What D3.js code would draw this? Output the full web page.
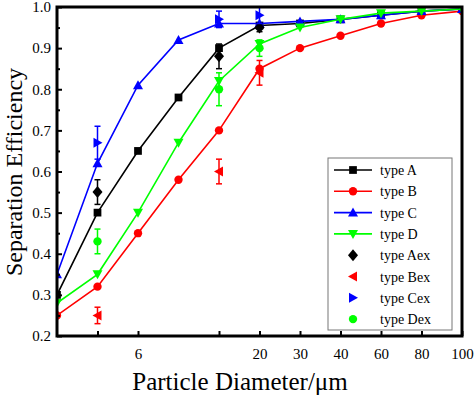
<!DOCTYPE html>
<html><head><meta charset="utf-8">
<script src="https://cdn.jsdelivr.net/npm/d3@7"></script>
<style>body{margin:0;background:#fff}text{font-family:"Liberation Serif","Times New Roman",serif}</style>
</head><body><svg id="c" width="474" height="402"></svg>
<script>
var cats = ["2","4","6","8","10","20","30","40","60","80","100"]
var labeled = ["6","20","30","40","60","80","100"]
var ticked = ["4","6","10","20","30","40","60","80","100"]
var typeA = [0.30,0.50,0.65,0.78,0.90,0.955,0.96,0.97,0.98,0.99,0.995]
var typeB = [0.25,0.32,0.45,0.58,0.70,0.85,0.90,0.93,0.96,0.98,0.99]
var typeC = [0.35,0.62,0.81,0.92,0.96,0.96,0.965,0.97,0.98,0.99,0.995]
var typeD = [0.28,0.35,0.50,0.67,0.82,0.91,0.95,0.97,0.985,0.99,0.995]
var exCats = ["4","10","20"]
var aex = [0.55,0.88,0.95], aexErr = [0.03,0.03,0.01]
var bex = [0.25,0.60,0.84], bexErr = [0.02,0.03,0.03]
var cex = [0.67,0.97,0.98], cexErr = [0.04,0.02,0.02]
var dex = [0.43,0.80,0.90], dexErr = [0.03,0.04,0.02]

var svg = d3.select("#c")
var x = d3.scalePoint().domain(cats).range([57,462])
var y = d3.scaleLinear().domain([0.2,1]).range([336,7])

var g = svg.append("g")
// clip
svg.append("clipPath").attr("id","cl").append("rect").attr("x",57).attr("y",7).attr("width",405).attr("height",329)
var plot = svg.append("g").attr("clip-path","url(#cl)")

var series = [
  {n:"type A", v:typeA, c:"#000", s:d3.symbolSquare},
  {n:"type B", v:typeB, c:"#f00", s:d3.symbolCircle},
  {n:"type C", v:typeC, c:"#00f", s:"up"},
  {n:"type D", v:typeD, c:"#0f0", s:"down"}
]
var exs = [
  {n:"type Aex", v:aex, e:aexErr, c:"#000", s:"diamond"},
  {n:"type Bex", v:bex, e:bexErr, c:"#f00", s:"left"},
  {n:"type Cex", v:cex, e:cexErr, c:"#00f", s:"right"},
  {n:"type Dex", v:dex, e:dexErr, c:"#0f0", s:d3.symbolCircle}
]
function shape(s){
  var p = {up:"M0,-5L5,4L-5,4Z", down:"M0,5L5,-4L-5,-4Z", left:"M-5,0L4,-5L4,5Z", right:"M5,0L-4,-5L-4,5Z", diamond:"M0,-6L5,0L0,6L-5,0Z"}
  if (p[s]) return p[s]
  return d3.symbol().type(s).size(s==d3.symbolSquare?60:55)()
}
var line = d3.line().x(function(d,i){return x(cats[i])}).y(function(d){return y(d)})
series.forEach(function(s){
  plot.append("path").attr("d",line(s.v)).attr("fill","none").attr("stroke",s.c).attr("stroke-width",1.6)
  plot.selectAll(null).data(s.v).enter().append("path").attr("d",shape(s.s)).attr("fill",s.c)
    .attr("transform",function(d,i){return "translate("+x(cats[i])+","+y(d)+")"})
})
exs.forEach(function(s){
  s.v.forEach(function(v,i){
    var cx = x(exCats[i]), e = s.e[i]
    var eg = plot.append("g").attr("stroke",s.c).attr("stroke-width",1.5)
    eg.append("line").attr("x1",cx).attr("x2",cx).attr("y1",y(v-e)).attr("y2",y(v+e))
    eg.append("line").attr("x1",cx-3).attr("x2",cx+3).attr("y1",y(v-e)).attr("y2",y(v-e))
    eg.append("line").attr("x1",cx-3).attr("x2",cx+3).attr("y1",y(v+e)).attr("y2",y(v+e))
    plot.append("path").attr("d",shape(s.s)).attr("fill",s.c).attr("transform","translate("+cx+","+y(v)+")")
  })
})

// axes
var yAx = d3.axisLeft(y).tickValues(d3.range(0.2,1.001,0.1)).tickFormat(d3.format(".1f")).tickSize(-5)
var ya = svg.append("g").attr("transform","translate(57,0)").call(yAx)
ya.selectAll("text").attr("x",-6).style("font-size","15px")
svg.append("g").attr("transform","translate(57,0)").call(d3.axisLeft(y).tickValues(d3.range(0.25,1,0.1)).tickSize(-3).tickFormat(""))
var xa = svg.append("g").attr("transform","translate(0,336)")
  .call(d3.axisBottom(x).tickValues(ticked).tickSize(-5).tickFormat(function(d){return labeled.indexOf(d)>=0?d:""}))
xa.selectAll("text").attr("y",12).style("font-size","15px")
svg.selectAll(".domain").remove()
svg.selectAll(".tick line").attr("stroke","#000").attr("stroke-width",2)
svg.append("rect").attr("x",57).attr("y",7).attr("width",405).attr("height",329).attr("fill","none").attr("stroke","#000").attr("stroke-width",3)

svg.append("text").attr("x",240).attr("y",390).attr("text-anchor","middle").style("font-size","25px").text("Particle Diameter/μm")
svg.append("text").attr("transform","translate(22,172) rotate(-90)").attr("text-anchor","middle").style("font-size","24px").text("Separation Efficiency")

// legend
var lg = svg.append("g").attr("transform","translate(328,158)")
lg.append("rect").attr("width",124).attr("height",172).attr("fill","#fff").attr("stroke","#777").attr("stroke-width",1)
series.concat(exs).forEach(function(s,i){
  var yy = 12 + i*21.3
  if (!s.e) lg.append("line").attr("x1",6).attr("x2",44).attr("y1",yy).attr("y2",yy).attr("stroke",s.c).attr("stroke-width",1.6)
  lg.append("path").attr("d",shape(s.s)).attr("fill",s.c).attr("transform","translate(25,"+yy+")")
  lg.append("text").attr("x",52).attr("y",yy+5).style("font-size","14px").text(s.n)
})
</script></body></html>
